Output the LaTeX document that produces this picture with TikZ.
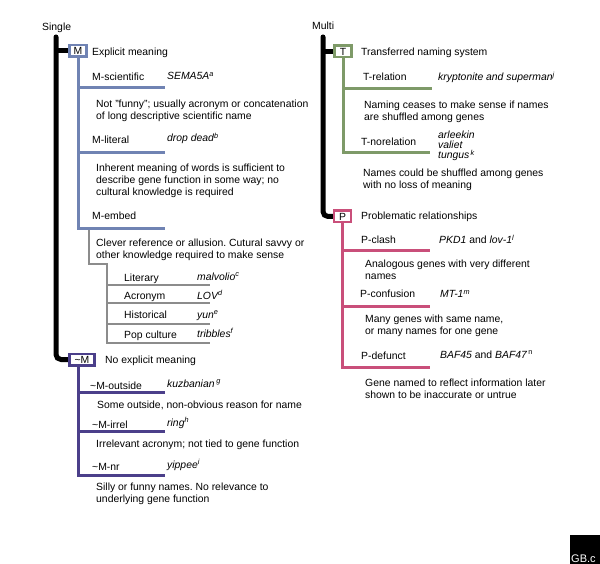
\documentclass[tikz,border=0pt]{standalone}
\usepackage{fontspec}
\setmainfont{Liberation Sans}
\usetikzlibrary{backgrounds}
\frenchspacing
\definecolor{mblue}{HTML}{7083B3}
\definecolor{nmpurple}{HTML}{4B3F8A}
\definecolor{tgreen}{HTML}{7E9A68}
\definecolor{ppink}{HTML}{C94F7A}
\definecolor{embgray}{HTML}{8C8C8C}
\begin{document}
\begin{tikzpicture}[x=1pt,y=-1pt,
  every node/.style={inner sep=0pt,font=\fontsize{10.4}{12}\selectfont},
  lbl/.style={anchor=base west},
  gene/.style={anchor=base west,font=\fontsize{10.4}{12}\selectfont\itshape},
  desc/.style={anchor=north west,align=left},
  catbox/.style={draw=#1,line width=2.5pt,fill=white,minimum width=17pt,minimum height=11.5pt},
  trunk/.style={line width=5pt,line cap=round,rounded corners=5pt},
  branch/.style={draw=#1,line width=3pt}]
\path[use as bounding box] (0,0) rectangle (600,564);
\node[lbl] (single) at (42,31) {Single};
\node[lbl] (multi) at (312,30) {Multi};
\node[catbox=mblue] (M) at (78,51) {M};
\node[catbox=nmpurple,minimum width=25pt] (notM) at (82,359.5) {\textasciitilde M};
\node[catbox=tgreen] (T) at (343,51.5) {T};
\node[catbox=ppink] (P) at (342.5,216.5) {P};
\begin{scope}[on background layer]
\draw[trunk] (56,37) -- (56,359.5) -- (notM.west);
\draw[line width=5pt] (56,51) -- (M.west);
\draw[trunk] (323,37) -- (323,216.5) -- (P.west);
\draw[line width=5pt] (323,51.5) -- (T.west);
\draw[branch=mblue] (M.south) -- (78,229) -- (165,229);
\draw[branch=nmpurple] (notM.south -| 78,0) -- (78,475) -- (165,475);
\draw[branch=tgreen] (T.south) -- (343,153) -- (430,153);
\draw[branch=ppink] (P.south) -- (342.5,367) -- (430,367);
\end{scope}
\draw[branch=mblue] (78,88) -- (165,88);
\draw[branch=mblue] (78,153) -- (165,153);
\draw[branch=nmpurple] (78,392) -- (165,392);
\draw[branch=nmpurple] (78,431) -- (165,431);
\draw[branch=tgreen] (343,89) -- (432,89);
\draw[branch=ppink] (342.5,251) -- (430,251);
\draw[branch=ppink] (342.5,306) -- (430,306);
\draw[embgray,line width=1.5pt] (89,230) -- (89,264) -- (107,264) -- (107,343) -- (210,343);
\draw[embgray,line width=1.5pt] (107,285) -- (210,285);
\draw[embgray,line width=1.5pt] (107,303) -- (210,303);
\draw[embgray,line width=1.5pt] (107,324) -- (210,324);
\node[lbl] (Mtxt) at (92,56) {Explicit meaning};
\node[lbl] (Msci) at (92,81) {M-scientific};
\node[gene] (Mscig) at (167,80) {SEMA5A\textsuperscript{a}};
\node[desc] (Mscid) at (96,100) {Not "funny"; usually acronym or concatenation\\of long descriptive scientific name};
\node[lbl] (Mlit) at (92,144) {M-literal};
\node[gene] (Mlitg) at (167,142) {drop dead\textsuperscript{b}};
\node[desc] (Mlitd) at (96,164) {Inherent meaning of words is sufficient to\\describe gene function in some way; no\\cultural knowledge is required};
\node[lbl] (Memb) at (92,220) {M-embed};
\node[desc] (Membd) at (96,239) {Clever reference or allusion. Cutural savvy or\\other knowledge required to make sense};
\node[lbl] (lit) at (124,281) {Literary};
\node[gene] (litg) at (197,280) {malvolio\textsuperscript{c}};
\node[lbl] (acr) at (124,300) {Acronym};
\node[gene] (acrg) at (197,299) {LOV\textsuperscript{d}};
\node[lbl] (his) at (124,319) {Historical};
\node[gene] (hisg) at (197,318) {yun\textsuperscript{e}};
\node[lbl] (pop) at (124,338) {Pop culture};
\node[gene] (popg) at (197,337) {tribbles\textsuperscript{f}};
\node[lbl] (notMtxt) at (105,363) {No explicit meaning};
\node[lbl] (nMout) at (90,389) {\textasciitilde M-outside};
\node[gene] (nMoutg) at (167,387) {kuzbanian\,\textsuperscript{g}};
\node[lbl] (nMoutd) at (97,408) {Some outside, non-obvious reason for name};
\node[lbl] (nMirr) at (92,428) {\textasciitilde M-irrel};
\node[gene] (nMirrg) at (167,426) {ring\textsuperscript{h}};
\node[lbl] (nMirrd) at (96,447) {Irrelevant acronym; not tied to gene function};
\node[lbl] (nMnr) at (92,470) {\textasciitilde M-nr};
\node[gene] (nMnrg) at (167,468) {yippee\textsuperscript{i}};
\node[desc] (nMnrd) at (96,483) {Silly or funny names. No relevance to\\underlying gene function};
\node[lbl] (Ttxt) at (361,56) {Transferred naming system};
\node[lbl] (Trel) at (363,81) {T-relation};
\node[gene] (Trelg) at (438,81) {kryptonite and superman\textsuperscript{j}};
\node[desc] (Treld) at (364,101) {Naming ceases to make sense if names\\are shuffled among genes};
\node[lbl] (Tnor) at (361,146) {T-norelation};
\node[gene,anchor=north west,align=left,font=\fontsize{10.4}{10}\selectfont\itshape] (Tnorg) at (438,131) {arleekin\\valiet\\tungus\textsuperscript{\,k}};
\node[desc] (Tnord) at (363,169) {Names could be shuffled among genes\\with no loss of meaning};
\node[lbl] (Ptxt) at (361,220) {Problematic relationships};
\node[lbl] (Pcla) at (361,244) {P-clash};
\node[lbl] (Pclag) at (439,244) {\textit{PKD1} and \textit{lov-1}\textsuperscript{\textit{l}}};
\node[desc] (Pclad) at (365,260) {Analogous genes with very different\\names};
\node[lbl] (Pcon) at (360,298) {P-confusion};
\node[gene] (Pcong) at (440,298) {MT-1\textsuperscript{m}};
\node[desc] (Pcond) at (365,315) {Many genes with same name,\\or many names for one gene};
\node[lbl] (Pdef) at (361,359) {P-defunct};
\node[lbl] (Pdefg) at (440,358) {\textit{BAF45} and \textit{BAF47}\textsuperscript{\,n}};
\node[desc] (Pdefd) at (365,379) {Gene named to reflect information later\\shown to be inaccurate or untrue};
\fill[black] (570,535) rectangle (600,564);
\node[lbl,white,font=\fontsize{11}{12}\selectfont] (wm) at (571,562) {GB.c};
\end{tikzpicture}
\end{document}
